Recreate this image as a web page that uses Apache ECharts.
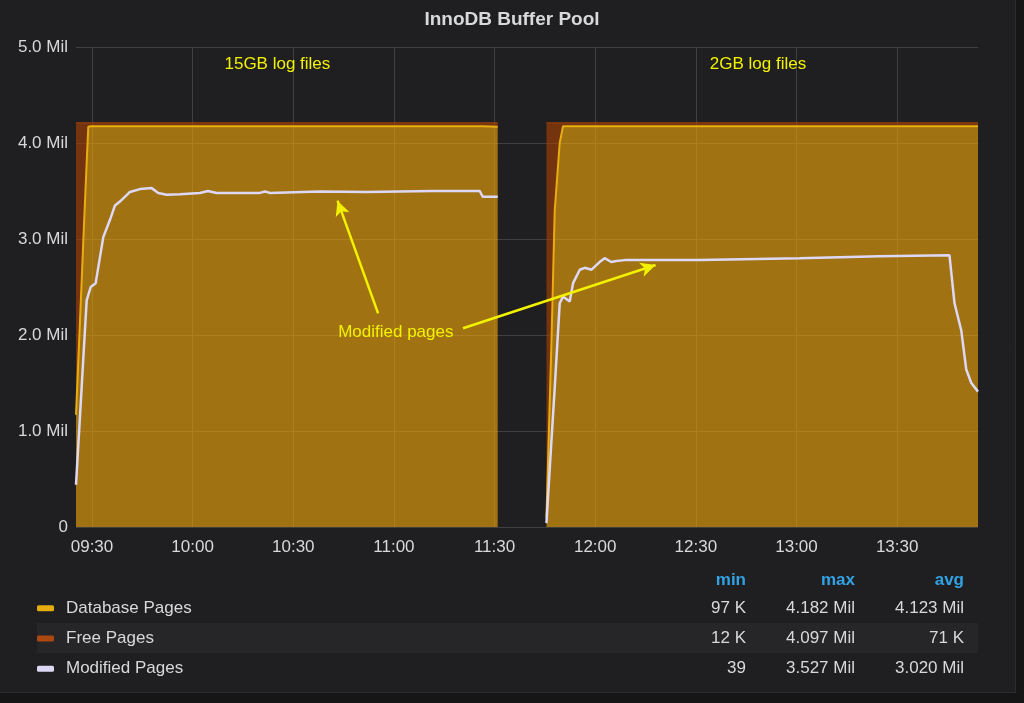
<!DOCTYPE html>
<html>
<head>
<meta charset="utf-8">
<script src="https://cdn.jsdelivr.net/npm/echarts@6/dist/echarts.min.js"></script>
<style>
html,body{margin:0;padding:0;background:#1f1e20;}
#chart{width:1024px;height:703px;}
</style>
</head>
<body>
<div id="chart"></div>
<script>
// ---- data (values in millions of pages) ----
const times = [
  '09:25:14','09:26:26','09:27:37','09:28:25','09:28:54','09:29:37','09:31:06','09:33:22','09:35:22','09:36:51',
  '09:38:20','09:41:19','09:44:18','09:47:47','09:49:45','09:52:15','09:56:13','10:02:10','10:04:33','10:07:09',
  '10:20:03','10:21:32','10:23:01','10:37:55','10:51:55','11:11:35','11:25:35','11:26:28','11:30:56','11:38:00',
  '11:45:28','11:46:57','11:47:56','11:49:25','11:50:24','11:52:24','11:53:24','11:55:24','11:56:54','11:58:54',
  '12:01:18','12:02:48','12:04:48','12:06:18','12:08:48','12:31:06','13:00:54','13:24:42','13:45:36','13:47:06',
  '13:49:06','13:50:36','13:52:06','13:54:06'
];
const databasePages = [
  1.17,2.15,3.15,3.80,4.17,4.175,4.175,4.175,4.175,4.175,
  4.175,4.175,4.175,4.175,4.175,4.175,4.175,4.175,4.175,4.175,
  4.175,4.175,4.175,4.175,4.175,4.175,4.175,4.175,4.17,null,
  0.10,1.92,3.30,4.00,4.175,4.175,4.175,4.175,4.175,4.175,
  4.175,4.175,4.175,4.175,4.175,4.175,4.175,4.175,4.175,4.175,
  4.175,4.175,4.175,4.175
];
const freePages = [
  3.04,2.06,1.06,0.41,0.04,0.035,0.035,0.035,0.035,0.035,
  0.035,0.035,0.035,0.035,0.035,0.035,0.035,0.035,0.035,0.035,
  0.035,0.035,0.035,0.035,0.035,0.035,0.035,0.035,0.04,null,
  4.11,2.29,0.91,0.21,0.035,0.035,0.035,0.035,0.035,0.035,
  0.035,0.035,0.035,0.035,0.035,0.035,0.035,0.035,0.035,0.035,
  0.035,0.035,0.035,0.035
];
const modifiedPages = [
  0.44,1.16,1.88,2.36,2.38,2.50,2.54,3.02,3.20,3.35,
  3.39,3.49,3.52,3.53,3.48,3.46,3.465,3.48,3.50,3.48,
  3.48,3.495,3.48,3.495,3.49,3.50,3.50,3.44,3.44,null,
  0.04,0.90,1.45,2.33,2.40,2.35,2.54,2.68,2.70,2.68,
  2.76,2.80,2.76,2.77,2.78,2.78,2.80,2.82,2.83,2.33,
  2.05,1.64,1.50,1.41
];
const tickTimes = ['09:30','10:00','10:30','11:00','11:30','12:00','12:30','13:00','13:30'];
const seriesNames = ['Database Pages','Free Pages','Modified Pages'];
const statHeaders = ['min','max','avg'];
const statMin = ['97 K','12 K','39'];
const statMax = ['4.182 Mil','4.097 Mil','3.527 Mil'];
const statAvg = ['4.123 Mil','71 K','3.020 Mil'];
const noteLabels = ['15GB log files','2GB log files','Modified pages'];
const noteTimes = ['10:25:16','12:48:32','11:00:34'];
const noteValues = [4.823,4.823,2.03];
const arrowFrom = [['10:55:17',2.226],['11:20:36',2.070]];
const arrowTo = [['10:43:11',3.399],['12:18:00',2.729]];
const xMin = '09:25:14', xMax = '13:54:06';

// ---- helpers ----
const T = s => new Date('2016-01-01T' + (s.length === 5 ? s + ':00' : s)).getTime();
const pairs = arr => times.map((t,i) => [T(t), arr[i]]);
const pad = n => (n < 10 ? '0' : '') + n;
const hhmm = v => { const d = new Date(v); return pad(d.getHours()) + ':' + pad(d.getMinutes()); };
const FONT = "'Liberation Sans', Arial, sans-serif";
const TXT = '#d8d9da';
const NOTE = '#f2f200';
const tickValues = tickTimes.map(T);

const chart = echarts.init(document.getElementById('chart'), null, {renderer:'canvas'});

const graphics = [
  {type:'rect', shape:{x:1016,y:0,width:8,height:703}, style:{fill:'#161616'}, silent:true},
  {type:'rect', shape:{x:0,y:693,width:1024,height:10}, style:{fill:'#161616'}, silent:true},
  {type:'line', shape:{x1:0,y1:692.5,x2:1016.5,y2:692.5}, style:{stroke:'#2c2c2e',lineWidth:1}, silent:true},
  {type:'line', shape:{x1:1015.5,y1:0,x2:1015.5,y2:693}, style:{stroke:'#2c2c2e',lineWidth:1}, silent:true},
  {type:'rect', shape:{x:37,y:623,width:941,height:30}, style:{fill:'#262628'}, silent:true, z:-1}
];
const colX = [746, 855, 964];
statHeaders.forEach((h,j) => graphics.push({
  type:'text', x:colX[j], y:580,
  style:{text:h, fill:'#33a2e5', font:"bold 17px " + FONT, align:'right', verticalAlign:'middle'}
}));
[statMin, statMax, statAvg].forEach((col,j) => col.forEach((v,i) => graphics.push({
  type:'text', x:colX[j], y:608 + i*30.3,
  style:{text:v, fill:TXT, font:"17px " + FONT, align:'right', verticalAlign:'middle'}
})));

const option = {
  backgroundColor:'#1f1e20',
  animation:false,
  textStyle:{fontFamily:FONT},
  title:{
    text:'InnoDB Buffer Pool', left:'center', top:5,
    textStyle:{color:TXT, fontSize:19, fontWeight:'bold', fontFamily:FONT}
  },
  legend:{
    data:seriesNames, orient:'vertical', left:37, top:598, padding:0,
    itemWidth:17, itemHeight:6, itemGap:10, icon:'roundRect', selectedMode:false,
    textStyle:{color:TXT, fontSize:17, lineHeight:20.3, padding:[0,0,0,7], fontFamily:FONT}
  },
  grid:{left:76, right:46, top:47, bottom:176, containLabel:false},
  xAxis:[
    {
      // data axis (time) used by the series, drawn invisibly
      type:'time', min:T(xMin), max:T(xMax), position:'bottom', show:false,
      splitLine:{show:false}
    },
    {
      // tick/label axis: same range, ticks on every half hour
      type:'value', min:T(xMin), max:T(xMax), position:'bottom',
      axisLine:{show:false},
      axisTick:{show:false, customValues:tickValues},
      axisLabel:{color:TXT, fontSize:17, margin:12, customValues:tickValues, formatter:hhmm, hideOverlap:false},
      splitLine:{show:true, lineStyle:{color:'#404042', width:1}}
    }
  ],
  yAxis:{
    type:'value', min:0, max:5, interval:1,
    axisLine:{show:false}, axisTick:{show:false},
    axisLabel:{color:TXT, fontSize:17, margin:8, formatter:v => v === 0 ? '0' : v.toFixed(1) + ' Mil'},
    splitLine:{show:true, lineStyle:{color:'#404042', width:1}}
  },
  series:[
    {
      name:seriesNames[0], type:'line', stack:'pool', xAxisIndex:0, data:pairs(databasePages),
      showSymbol:false, connectNulls:false, color:'#e5ac0e',
      lineStyle:{color:'#e9ad12', width:2},
      areaStyle:{color:'rgba(246,170,9,0.6)', opacity:1},
      z:2
    },
    {
      name:seriesNames[1], type:'line', stack:'pool', xAxisIndex:0, data:pairs(freePages),
      showSymbol:false, connectNulls:false, color:'#ad4810',
      lineStyle:{color:'#a5420c', width:1},
      areaStyle:{color:'rgba(174,67,4,0.6)', opacity:1},
      z:2
    },
    {
      name:seriesNames[2], type:'line', xAxisIndex:0, data:pairs(modifiedPages),
      showSymbol:false, connectNulls:false, color:'#dcd7f5',
      lineStyle:{color:'#ddd8f6', width:2.5},
      z:3,
      markLine:{
        silent:true, symbol:['none','arrow'], symbolSize:[11,15],
        lineStyle:{color:NOTE, width:2.5, type:'solid'},
        label:{show:false},
        data: arrowFrom.map((f,i) => [
          {coord:[T(f[0]), f[1]]},
          {coord:[T(arrowTo[i][0]), arrowTo[i][1]]}
        ])
      },
      markPoint:{
        silent:true, symbol:'rect', symbolSize:1,
        itemStyle:{color:'rgba(0,0,0,0)'},
        label:{show:true, position:'inside', color:NOTE, fontSize:17, fontFamily:FONT},
        data: noteLabels.map((s,i) => ({
          coord:[T(noteTimes[i]), noteValues[i]],
          label:{formatter:s}
        }))
      }
    }
  ],
  graphic:graphics
};
chart.setOption(option);
</script>
</body>
</html>
